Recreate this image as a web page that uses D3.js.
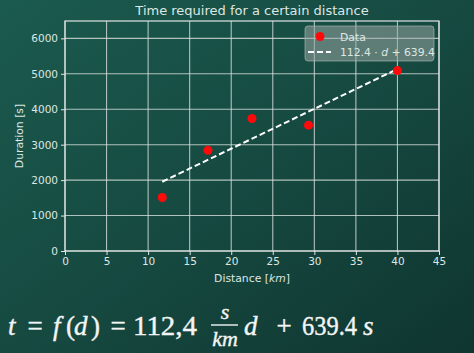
<!DOCTYPE html>
<html><head><meta charset="utf-8">
<script src="https://cdn.jsdelivr.net/npm/d3@7"></script>
<style>html,body{margin:0;padding:0;background:#143f37;}svg{display:block;}</style>
</head><body>
<script>
const distance = [11.7, 17.2, 22.5, 29.3, 40.0];
const duration = [1510, 2840, 3740, 3550, 5090];
const slope = 112.4, intercept = 639.4;
const xTicks = [0,5,10,15,20,25,30,35,40,45];
const yTicks = [0,1000,2000,3000,4000,5000,6000];

const W = 474, H = 353;
const m = {left:65, right:35, top:21, bottom:102};
const svg = d3.select("body").append("svg").attr("width",W).attr("height",H);
const defs = svg.append("defs");
const g0 = defs.append("linearGradient").attr("id","bg").attr("x1","0").attr("y1","0").attr("x2","1").attr("y2","1");
g0.append("stop").attr("offset","0").attr("stop-color","#1b5a4e");
g0.append("stop").attr("offset","0.5").attr("stop-color","#164a41");
g0.append("stop").attr("offset","1").attr("stop-color","#0f3530");
svg.append("rect").attr("width",W).attr("height",H).attr("fill","url(#bg)");

const txt = "#dde7e3";
const x = d3.scaleLinear().domain([0,45]).range([m.left, W-m.right]);
const y = d3.scaleLinear().domain([0,6490]).range([H-m.bottom, m.top]);

// grid
svg.append("g").selectAll("line").data(xTicks).join("line")
  .attr("x1",d=>x(d)).attr("x2",d=>x(d)).attr("y1",y(0)).attr("y2",m.top)
  .attr("stroke","#d8dedc").attr("stroke-opacity",0.8).attr("stroke-width",1.1);
svg.append("g").selectAll("line").data(yTicks).join("line")
  .attr("y1",d=>y(d)).attr("y2",d=>y(d)).attr("x1",x(0)).attr("x2",x(45))
  .attr("stroke","#d8dedc").attr("stroke-opacity",0.8).attr("stroke-width",1.1);
// frame
svg.append("rect").attr("x",x(0)).attr("y",m.top).attr("width",x(45)-x(0)).attr("height",y(0)-m.top)
  .attr("fill","none").attr("stroke","#dfe5e3").attr("stroke-width",1.2);

// axes
const xa = svg.append("g").attr("transform",`translate(0,${y(0)})`)
  .call(d3.axisBottom(x).tickValues(xTicks).tickFormat(d3.format("d")).tickSize(4).tickPadding(3));
const ya = svg.append("g").attr("transform",`translate(${x(0)},0)`)
  .call(d3.axisLeft(y).tickValues(yTicks).tickFormat(d3.format("d")).tickSize(4).tickPadding(3));
[xa,ya].forEach(a=>{
  a.select(".domain").remove();
  a.selectAll("line").attr("stroke","#dfe5e3");
  a.selectAll("text").attr("fill",txt).style("font-family","DejaVu Sans").style("font-size","10.5px");
});

// title
svg.append("text").attr("x",(x(0)+x(45))/2).attr("y",15).attr("text-anchor","middle")
  .attr("fill",txt).style("font-family","DejaVu Sans").style("font-size","13px")
  .text("Time required for a certain distance");
// axis labels
const xl = svg.append("text").attr("x",(x(0)+x(45))/2).attr("y",282).attr("text-anchor","middle")
  .attr("fill",txt).style("font-family","DejaVu Sans").style("font-size","10.8px");
xl.append("tspan").text("Distance [");
xl.append("tspan").attr("font-style","italic").text("km");
xl.append("tspan").text("]");
svg.append("text").attr("transform",`translate(23,${(y(0)+m.top)/2}) rotate(-90)`).attr("text-anchor","middle")
  .attr("fill",txt).style("font-family","DejaVu Sans").style("font-size","10.8px")
  .text("Duration [s]");

// fit line
const x0 = d3.min(distance), x1 = d3.max(distance);
svg.append("line").attr("x1",x(x0)).attr("y1",y(slope*x0+intercept))
  .attr("x2",x(x1)).attr("y2",y(slope*x1+intercept))
  .attr("stroke","#ffffff").attr("stroke-width",2).attr("stroke-dasharray","6,3");
// points
svg.append("g").selectAll("circle").data(distance).join("circle")
  .attr("cx",d=>x(d)).attr("cy",(d,i)=>y(duration[i])).attr("r",4.5).attr("fill","#ff0a0a");

// legend
const lg = svg.append("g");
lg.append("rect").attr("x",305).attr("y",26).attr("width",129).attr("height",35).attr("rx",3)
  .attr("fill","#9aa5a2").attr("fill-opacity",0.55).attr("stroke","#b5bdbb").attr("stroke-opacity",0.6);
lg.append("circle").attr("cx",320).attr("cy",36.5).attr("r",4.5).attr("fill","#ff0a0a");
lg.append("text").attr("x",340).attr("y",40.5).attr("fill",txt).style("font-family","DejaVu Sans").style("font-size","10.8px").text("Data");
lg.append("line").attr("x1",308).attr("x2",331).attr("y1",52).attr("y2",52).attr("stroke","#fff").attr("stroke-width",2).attr("stroke-dasharray","6,3");
const lt = lg.append("text").attr("x",340).attr("y",56).attr("fill",txt).style("font-family","DejaVu Sans").style("font-size","10.8px");
lt.append("tspan").text("112.4 · ");
lt.append("tspan").attr("font-style","italic").text("d");
lt.append("tspan").text(" + 639.4");

// equation
const eqc = "#f3f5f4";
const ef = "Liberation Serif";
const eqG = svg.append("g").attr("fill",eqc).attr("stroke",eqc).attr("stroke-width",0.4)
  .style("font-family",ef).style("font-size","27px");
function piece(t, xx, opts={}) {
  const e = eqG.append("text").attr("x",xx).attr("y",opts.y||335).text(t);
  if (opts.it) e.attr("font-style","italic");
  if (opts.mid) e.attr("text-anchor","middle");
  if (opts.size) e.style("font-size",opts.size);
  if (opts.len) e.attr("textLength",opts.len).attr("lengthAdjust","spacingAndGlyphs");
  return e;
}
piece("t", 8, {it:true});
piece("=", 35, {mid:true});
piece("f", 53, {it:true});
piece("(", 66);
piece("d", 74, {it:true});
piece(")", 91);
piece("=", 118, {mid:true});
piece("112,4", 133, {len:64});
piece("s", 225, {it:true, mid:true, y:319, size:"22px"});
eqG.append("line").attr("x1",211).attr("x2",238).attr("y1",325).attr("y2",325).attr("stroke-width",1.4);
piece("km", 225, {it:true, mid:true, y:346, size:"22px"});
piece("d", 244, {it:true});
piece("+", 284, {mid:true});
piece("639.4", 302, {len:55});
piece("s", 363, {it:true});
</script>
</body></html>
